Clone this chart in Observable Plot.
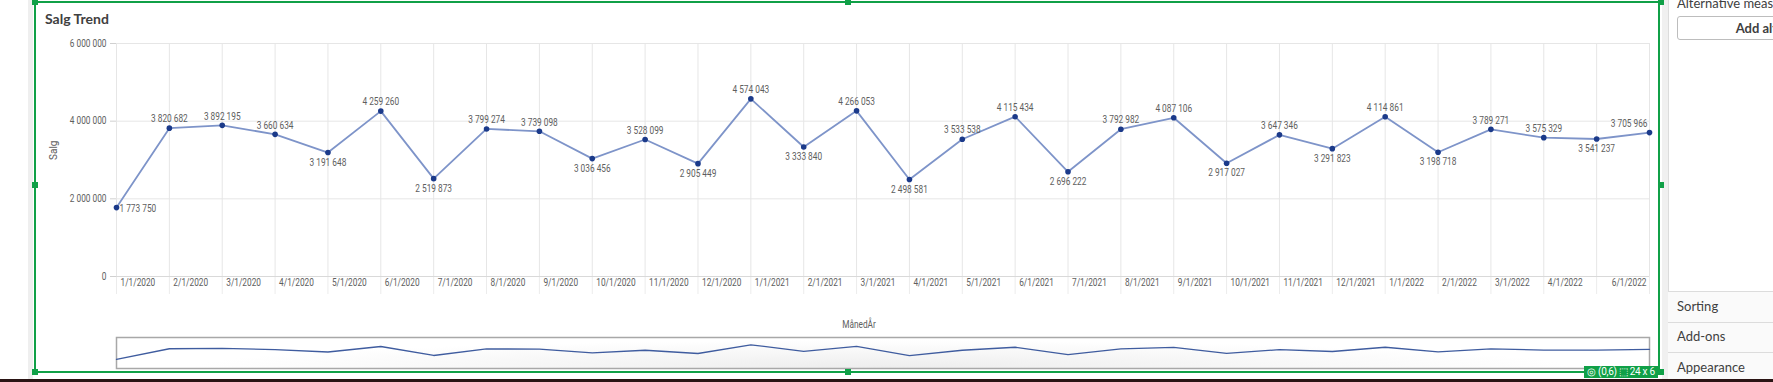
<!DOCTYPE html>
<html>
<head>
<meta charset="utf-8">
<script src="https://cdn.jsdelivr.net/npm/d3@7"></script>
<script src="https://cdn.jsdelivr.net/npm/@observablehq/plot@0.6"></script>
<style>
  html, body { margin: 0; padding: 0; background: #fff; }
  body { width: 1773px; height: 382px; position: relative; overflow: hidden;
         font-family: "Roboto", sans-serif; }
  .abs { position: absolute; }
  #main, #mini { position: absolute; left: 0; }
  #main { top: 0; }
  #mini { top: 336px; }
  .handle { position: absolute; width: 6px; height: 6px; background: #10a047; }
  .panelrow { position: absolute; left: 1677px; font: 13px "Lato", sans-serif; color: #404040; white-space: nowrap; }
</style>
</head>
<body>
<div class="abs" style="left:28px;top:0;width:5px;height:382px;background:#efefef"></div>
<div class="abs" style="left:1662px;top:0;width:6px;height:382px;background:#f0f0f0"></div>
<div class="abs" style="left:1668px;top:0;width:105px;height:382px;background:#fff;border-left:1px solid #dcdcdc"></div>
<div class="abs" style="left:1668px;top:291px;width:105px;height:90px;background:#fafafa"></div>
<div class="abs" style="left:1668px;top:291px;width:105px;height:1px;background:#dcdcdc"></div>
<div class="abs" style="left:1668px;top:322px;width:105px;height:1px;background:#dcdcdc"></div>
<div class="abs" style="left:1668px;top:352px;width:105px;height:1px;background:#dcdcdc"></div>
<div class="panelrow" style="top:-5px">Alternative measures</div>
<div class="abs" style="left:1677px;top:16px;width:210px;height:22px;border:1px solid #bdbdbd;border-radius:3px;background:#fff;font:bold 13px Lato, sans-serif;color:#404040;text-align:center;line-height:22px;white-space:nowrap">Add alternatives</div>
<div class="panelrow" style="top:298px">Sorting</div>
<div class="panelrow" style="top:328px">Add-ons</div>
<div class="panelrow" style="top:359px">Appearance</div>

<div id="title" class="abs" style="left:45px;top:10px;font:bold 14px Lato, sans-serif;color:#404040">Salg Trend</div>
<div id="main"></div>
<div class="abs" style="left:116px;top:337px;width:1533px;height:31px;background:radial-gradient(ellipse 45% 90% at 50% 100%, #ededed, #ffffff)"></div>
<div id="mini"></div>

<div class="abs" style="left:34px;top:1px;width:1626px;height:372px;border:2px solid #10a047;box-sizing:border-box"></div>
<div class="handle" style="left:32px;top:-1px"></div>
<div class="handle" style="left:845px;top:-1px"></div>
<div class="handle" style="left:1658px;top:-1px"></div>
<div class="handle" style="left:32px;top:182px"></div>
<div class="handle" style="left:1658px;top:182px"></div>
<div class="handle" style="left:32px;top:369px"></div>
<div class="handle" style="left:845px;top:369px"></div>
<div class="handle" style="left:1658px;top:369px"></div>
<div class="abs" style="left:1584px;top:366px;width:74px;height:12px;background:#10a047;color:#fff;font:10px Roboto, sans-serif;line-height:12px;text-align:center;white-space:nowrap;letter-spacing:-0.3px">◎ (0,6) ⬚ 24 x 6</div>
<div class="abs" style="left:0;top:379px;width:1773px;height:3px;background:#2a1414"></div>

<script>
// ---- data ----
const months = ["1/1/2020","2/1/2020","3/1/2020","4/1/2020","5/1/2020","6/1/2020","7/1/2020","8/1/2020","9/1/2020","10/1/2020","11/1/2020","12/1/2020",
  "1/1/2021","2/1/2021","3/1/2021","4/1/2021","5/1/2021","6/1/2021","7/1/2021","8/1/2021","9/1/2021","10/1/2021","11/1/2021","12/1/2021",
  "1/1/2022","2/1/2022","3/1/2022","4/1/2022","5/1/2022","6/1/2022"];
const salg = [1773750,3820682,3892195,3660634,3191648,4259260,2519873,3799274,3739098,3036456,3528099,2905449,
  4574043,3333840,4266053,2498581,3533538,4115434,2696222,3792982,4087106,2917027,3647346,3291823,
  4114861,3198718,3789271,3575329,3541237,3705966];
const yTicks = [0, 2000000, 4000000, 6000000];
const yTitle = "Salg";
const xTitle = "MånedÅr";

// ---- build ----
const fmt = d3.formatLocale({decimal: ".", thousands: " ", grouping: [3], currency: ["", ""]}).format(",d");
const data = months.map((m, i) => ({month: m, value: salg[i], i}));
const lastIdx = months.length - 1;
const isMin = d => d.i > 0 && d.i < lastIdx && d.value < data[d.i - 1].value && d.value < data[d.i + 1].value;
const first = data.filter(d => d.i === 0);
const last = data.filter(d => d.i === lastIdx);
const above = data.filter(d => d.i > 0 && d.i < lastIdx && !isMin(d));
const below = data.filter(d => isMin(d));
const tickLabelsStart = months.filter((m, i) => i < lastIdx - 1);
const tickLabelsEnd = months.filter((m, i) => i === lastIdx);

const FONT = '"Roboto", sans-serif';
const grey = "#5e5e5e";

const main = Plot.plot({
  width: 1660, height: 340,
  marginLeft: 116, marginRight: 11, marginTop: 43, marginBottom: 64,
  style: {fontFamily: FONT, fontSize: "10px", background: "transparent", overflow: "visible"},
  x: {type: "point", domain: months, padding: 0, round: false, axis: null},
  y: {domain: [0, 6000000], axis: null},
  marks: [
    Plot.ruleY(yTicks, {stroke: "#e6e6e6"}),
    Plot.ruleX(months, {stroke: "#e6e6e6"}),
    Plot.axisX({ticks: months, tickSize: 18, tickFormat: () => "", stroke: "#ececec", label: null}),
    Plot.ruleY([0], {stroke: "#d9d9d9"}),
    Plot.axisY({ticks: yTicks, tickSize: 6, tickPadding: 4, tickFormat: fmt, stroke: "#d0d0d0", fill: grey, label: null, fontSize: 10}),
    Plot.line(data, {x: "month", y: "value", stroke: "#7e94c9", strokeWidth: 1.8}),
    Plot.dot(data, {x: "month", y: "value", r: 2.8, fill: "#1b3a8a", stroke: "none"}),
    Plot.text(above, {x: "month", y: "value", text: d => fmt(d.value), dy: -9, fill: grey, fontSize: 10}),
    Plot.text(below, {x: "month", y: "value", text: d => fmt(d.value), dy: 10, fill: grey, fontSize: 10}),
    Plot.text(first, {x: "month", y: "value", text: d => fmt(d.value), dx: 3, dy: 1, textAnchor: "start", fill: grey, fontSize: 10}),
    Plot.text(last, {x: "month", y: "value", text: d => fmt(d.value), dx: -2, dy: -9, textAnchor: "end", fill: grey, fontSize: 10}),
    Plot.text(tickLabelsStart, {x: d => d, text: d => d, frameAnchor: "bottom", dy: 9, dx: 4, textAnchor: "start", fill: grey, fontSize: 10}),
    Plot.text(tickLabelsEnd, {x: d => d, text: d => d, frameAnchor: "bottom", dy: 9, dx: -3, textAnchor: "end", fill: grey, fontSize: 10}),
    Plot.text([yTitle], {frameAnchor: "left", dx: -63, rotate: -90, fill: grey, fontSize: 10}),
    Plot.text([xTitle], {frameAnchor: "bottom", dx: -24, dy: 51, fill: grey, fontSize: 10})
  ]
});

// narrow the glyphs (reference uses a condensed face) around each text's own anchor
function condense(svg, k) {
  svg.querySelectorAll("text").forEach(t => {
    const tr = t.getAttribute("transform") || "";
    if (tr.includes("rotate")) return;
    if (tr) {
      t.setAttribute("transform", tr + ` scale(${k},1)`);
    } else {
      const x = +(t.getAttribute("x") || 0), y = +(t.getAttribute("y") || 0);
      t.removeAttribute("x"); t.removeAttribute("y");
      t.setAttribute("transform", `translate(${x},${y}) scale(${k},1)`);
    }
  });
}
condense(main, 0.83);
document.getElementById("main").appendChild(main);

const mini = Plot.plot({
  width: 1660, height: 33,
  marginLeft: 116, marginRight: 11, marginTop: 1, marginBottom: 1,
  style: {background: "transparent", overflow: "visible"},
  x: {type: "point", domain: months, padding: 0, round: false, axis: null},
  y: {domain: [0, 6000000], axis: null},
  marks: [
    Plot.frame({stroke: "#a8a8a8", strokeWidth: 1.5}),
    Plot.line(data, {x: "month", y: "value", stroke: "#3f5c9f", strokeWidth: 1.3})
  ]
});
document.getElementById("mini").appendChild(mini);
</script>
</body>
</html>
